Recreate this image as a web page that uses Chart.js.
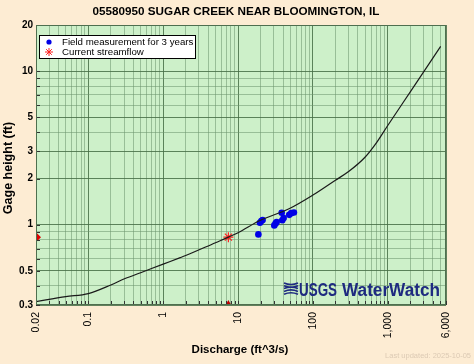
<!DOCTYPE html>
<html>
<head>
<meta charset="utf-8">
<script src="https://cdn.jsdelivr.net/npm/chart.js@4.4.1/dist/chart.umd.min.js"></script>
<style>
  html, body { margin: 0; padding: 0; background: #fdecd3; }
  canvas { display: block; }
</style>
</head>
<body>
<canvas id="chart" width="474" height="364"></canvas>
<script>
// rating curve (discharge ft^3/s, gage height ft)
const ratingQ = [0.02, 0.05, 0.1, 0.2, 0.31, 0.5, 1, 1.69, 2, 5, 7.43, 10, 19.6, 48, 100, 200, 300, 493, 713, 1000, 2000, 5090];
const ratingH = [0.316, 0.34, 0.356, 0.405, 0.446, 0.487, 0.554, 0.61, 0.63, 0.764, 0.83, 0.887, 1.066, 1.27, 1.56, 1.95, 2.22, 2.74, 3.44, 4.43, 7.34, 14.5];

// field measurements for 3 years
const fieldQ = [18.7, 19.6, 20.5, 21.3, 30.5, 31.8, 32.8, 38.3, 39.0, 40.7, 48.3, 51.4, 55.8];
const fieldH = [0.865, 1.03, 1.057, 1.073, 0.99, 1.02, 1.04, 1.197, 1.07, 1.105, 1.16, 1.19, 1.2];

// current streamflow
const currentQ = 7.43;
const currentH = 0.83;

const xMin = 0.02, xMax = 6000;
const yMin = 0.3, yMax = 20;
const xTickLabels = [0.02, 0.1, 1, 10, 100, 1000, 6000];
const yTickLabels = [0.3, 0.5, 1, 2, 3, 5, 10, 20];

const minorColor = 'rgba(110,150,110,0.55)';
const majorColor = 'rgba(70,110,70,0.85)';

// grid lines at 1..9 x each decade, inside the axis range
function gridValues(min, max) {
  const out = [];
  for (let d = -3; d <= 4; d++) {
    for (let m = 1; m <= 9; m++) {
      const v = Number((m * Math.pow(10, d)).toPrecision(3));
      if (v >= min - 1e-9 && v <= max + 1e-9) out.push(v);
    }
  }
  return out;
}
const xGrid = gridValues(xMin, xMax);
const yGrid = gridValues(yMin, yMax);

const isLabel = (list, v) => list.some(t => Math.abs(t - v) / t < 1e-6);

const pts = (xs, ys) => xs.map((x, i) => ({ x: x, y: ys[i] }));

// background, border, inner tick marks, texts, legend, logo
const decorations = {
  id: 'decorations',
  beforeDraw(chart) {
    const { ctx, chartArea: a } = chart;
    ctx.save();
    ctx.fillStyle = '#fdecd3';
    ctx.fillRect(0, 0, chart.width, chart.height);
    ctx.fillStyle = '#cdf0c9';
    ctx.fillRect(a.left, a.top, a.right - a.left, a.bottom - a.top);
    ctx.restore();
  },
  afterDatasetsDraw(chart) {
    const { ctx, chartArea: a, scales } = chart;
    ctx.save();

    // short tick marks inside left and bottom edges
    ctx.strokeStyle = '#333';
    ctx.lineWidth = 1;
    ctx.beginPath();
    yGrid.forEach(v => {
      const y = Math.round(scales.y.getPixelForValue(v)) + 0.5;
      ctx.moveTo(a.left, y); ctx.lineTo(a.left + 4, y);
    });
    xGrid.forEach(v => {
      const x = Math.round(scales.x.getPixelForValue(v)) + 0.5;
      ctx.moveTo(x, a.bottom); ctx.lineTo(x, a.bottom - 4);
    });
    ctx.stroke();

    // plot border
    ctx.strokeStyle = '#4f6f4f';
    ctx.strokeRect(a.left + 0.5, a.top + 0.5, a.right - a.left - 1, a.bottom - a.top - 1);

    // legend
    ctx.fillStyle = '#fff';
    ctx.fillRect(39.5, 35.5, 156, 23);
    ctx.strokeStyle = '#000';
    ctx.strokeRect(39.5, 35.5, 156, 23);
    ctx.fillStyle = '#0000e6';
    ctx.beginPath();
    ctx.arc(49, 42, 2.6, 0, Math.PI * 2);
    ctx.fill();
    ctx.strokeStyle = '#ff2020';
    ctx.beginPath();
    for (let k = 0; k < 4; k++) {
      const ang = k * Math.PI / 4;
      ctx.moveTo(49 - 4 * Math.cos(ang), 52 - 4 * Math.sin(ang));
      ctx.lineTo(49 + 4 * Math.cos(ang), 52 + 4 * Math.sin(ang));
    }
    ctx.stroke();
    ctx.fillStyle = '#000';
    ctx.font = '9.7px Arial, "Liberation Sans", sans-serif';
    ctx.textAlign = 'left';
    ctx.textBaseline = 'middle';
    ctx.fillText('Field measurement for 3 years', 62, 42);
    ctx.fillText('Current streamflow', 62, 52.5);

    // USGS WaterWatch logo
    const navy = '#1e2a80';
    ctx.strokeStyle = navy;
    ctx.lineWidth = 1.6;
    ctx.beginPath();
    for (let k = 0; k < 5; k++) {
      const y = 283 + k * 2.8;
      ctx.moveTo(284, y);
      ctx.quadraticCurveTo(291, y + (k < 2 ? 3 : -3), 298, y);
    }
    ctx.stroke();
    ctx.fillStyle = navy;
    ctx.textBaseline = 'alphabetic';
    ctx.font = 'bold 18px Arial, "Liberation Sans", sans-serif';
    ctx.save();
    ctx.translate(299, 295.5);
    const wU = ctx.measureText('USGS').width;
    ctx.scale(38 / wU, 1);
    ctx.fillText('USGS', 0, 0);
    ctx.restore();
    ctx.save();
    ctx.translate(342, 295.5);
    const wW = ctx.measureText('WaterWatch').width;
    ctx.scale(98 / wW, 1);
    ctx.fillText('WaterWatch', 0, 0);
    ctx.restore();

    // title and axis titles
    ctx.fillStyle = '#000';
    ctx.textAlign = 'center';
    ctx.textBaseline = 'middle';
    ctx.font = 'bold 11.7px Arial, "Liberation Sans", sans-serif';
    ctx.fillText('05580950 SUGAR CREEK NEAR BLOOMINGTON, IL', 236, 12);
    ctx.font = 'bold 11.5px Arial, "Liberation Sans", sans-serif';
    ctx.fillText('Discharge (ft^3/s)', 240, 350);
    ctx.save();
    ctx.translate(9, 168);
    ctx.rotate(-Math.PI / 2);
    ctx.font = 'bold 12.5px Arial, "Liberation Sans", sans-serif';
    ctx.fillText('Gage height (ft)', 0, 0);
    ctx.restore();

    // last updated note
    ctx.fillStyle = '#dccab4';
    ctx.font = '7.5px Arial, "Liberation Sans", sans-serif';
    ctx.textAlign = 'right';
    ctx.fillText('Last updated: 2025-10-05', 471, 356);

    ctx.restore();
  }
};

new Chart(document.getElementById('chart'), {
  type: 'scatter',
  data: {
    datasets: [
      {
        label: 'Rating curve',
        data: pts(ratingQ, ratingH),
        showLine: true,
        borderColor: '#1a1a1a',
        borderWidth: 1.2,
        pointRadius: 0,
        cubicInterpolationMode: 'monotone'
      },
      {
        label: 'Field measurement for 3 years',
        data: pts(fieldQ, fieldH),
        backgroundColor: '#0000e6',
        borderColor: '#0000e6',
        pointRadius: 3.3,
        borderWidth: 0
      },
      {
        label: 'Current streamflow',
        data: [{ x: currentQ, y: currentH }],
        pointStyle: 'star',
        pointRadius: 5,
        borderColor: '#ff2020',
        borderWidth: 1.2
      },
      {
        label: 'Current gage height marker',
        data: [{ x: xMin, y: currentH }],
        pointStyle: 'rectRot',
        pointRadius: 5,
        backgroundColor: '#e00000',
        borderWidth: 0,
        clip: 0
      },
      {
        label: 'Current discharge marker',
        data: [{ x: currentQ, y: yMin }],
        pointStyle: 'triangle',
        pointRadius: 5,
        backgroundColor: '#c00000',
        borderWidth: 0,
        clip: 0
      }
    ]
  },
  options: {
    responsive: false,
    animation: false,
    layout: { padding: { top: 25, right: 28, left: 0, bottom: 0 } },
    plugins: {
      legend: { display: false },
      tooltip: { enabled: false }
    },
    scales: {
      x: {
        type: 'logarithmic',
        min: xMin,
        max: xMax,
        afterBuildTicks: s => { s.ticks = xGrid.map(v => ({ value: v })); },
        afterFit: s => { s.height = 59; },
        border: { display: false },
        grid: {
          drawTicks: false,
          color: c => isLabel(xTickLabels, c.tick.value) ? majorColor : minorColor,
          lineWidth: 1
        },
        ticks: {
          autoSkip: false,
          maxRotation: 90,
          minRotation: 90,
          padding: 7,
          color: '#000',
          font: { family: 'Arial, "Liberation Sans", sans-serif', size: 10.5 },
          callback: v => isLabel(xTickLabels, v) ? v.toLocaleString('en-US') : ''
        }
      },
      y: {
        type: 'logarithmic',
        min: yMin,
        max: yMax,
        afterBuildTicks: s => { s.ticks = yGrid.map(v => ({ value: v })); },
        afterFit: s => { s.width = 36; },
        border: { display: false },
        grid: {
          drawTicks: false,
          color: c => isLabel(yTickLabels, c.tick.value) ? majorColor : minorColor,
          lineWidth: 1
        },
        ticks: {
          autoSkip: false,
          padding: 3,
          color: '#000',
          font: { family: 'Arial, "Liberation Sans", sans-serif', size: 10, weight: 'bold' },
          callback: v => isLabel(yTickLabels, v) ? String(v) : ''
        }
      }
    }
  },
  plugins: [decorations]
});
</script>
</body>
</html>
